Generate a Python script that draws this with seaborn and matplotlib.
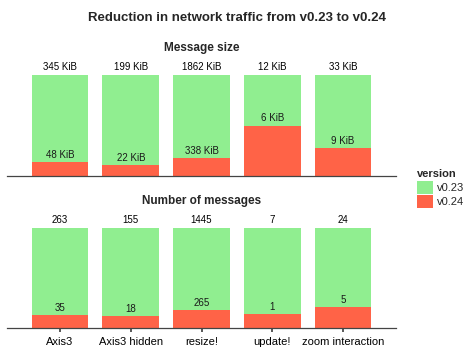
import numpy as np
import pandas as pd
import seaborn as sns
import matplotlib.pyplot as plt
from matplotlib.patches import Patch

# data
benchmarks = ['Axis3', 'Axis3 hidden', 'resize!', 'update!', 'zoom interaction']
size_v023 = [345, 199, 1862, 12, 33]      # KiB
size_v024 = [48, 22, 338, 6, 9]           # KiB
count_v023 = [263, 155, 1445, 7, 24]
count_v024 = [35, 18, 265, 1, 5]

versions = ['v0.23', 'v0.24']
colors = {'v0.23': '#90EE90', 'v0.24': '#FF6347'}

def make_df(old, new):
    rows = []
    for b, o, n in zip(benchmarks, old, new):
        rows.append({'benchmark': b, 'version': 'v0.23', 'value': o, 'ratio': 1.0})
        rows.append({'benchmark': b, 'version': 'v0.24', 'value': n, 'ratio': n / o})
    return pd.DataFrame(rows)

panels = [
    ('Message size', make_df(size_v023, size_v024), ' KiB'),
    ('Number of messages', make_df(count_v023, count_v024), ''),
]

sns.set_theme(style='white')
plt.rcParams['font.family'] = ['Liberation Sans', 'DejaVu Sans']

fig = plt.figure(figsize=(4.74, 3.57), dpi=100)
H = 357.0
W = 474.0
ax_boxes = [(7, 75, 176), (7, 228, 328)]

for i, ((title, df, unit), (x0, ytop, ybot)) in enumerate(zip(panels, ax_boxes)):
    ax = fig.add_axes([x0 / W, 1 - ybot / H, (396 - x0) / W, (ybot - ytop) / H])
    sns.barplot(data=df, x='benchmark', y='ratio', hue='version', hue_order=versions,
                palette=colors, dodge=False, width=0.8, saturation=1, ax=ax,
                legend=False, order=benchmarks, linewidth=0)
    ax.set_xlim(-0.75, 4.75)
    ax.set_ylim(0, 1)
    ax.set_ylabel('')
    ax.set_xlabel('')
    ax.set_yticks([])
    for s in ['top', 'right', 'left']:
        ax.spines[s].set_visible(False)
    ax.spines['bottom'].set_color('#444444')
    ax.spines['bottom'].set_linewidth(0.9)
    ax.set_title(title, fontsize=8.5, fontweight='bold', pad=17)

    for j, b in enumerate(benchmarks):
        sub = df[df.benchmark == b]
        old = sub[sub.version == 'v0.23'].iloc[0]
        new = sub[sub.version == 'v0.24'].iloc[0]
        ax.text(j, 1.0 + 0.03, f"{old.value}{unit}", ha='center', va='bottom',
                fontsize=7, color='black', clip_on=False)
        ax.text(j, new.ratio + 0.02, f"{new.value}{unit}", ha='center', va='bottom',
                fontsize=7, color='#1a1a1a')

    if i == 0:
        ax.set_xticks([])
    else:
        ax.tick_params(axis='x', bottom=True, length=3, color='#444444',
                       labelsize=8, pad=3.5, labelcolor='black')

fig.suptitle('Reduction in network traffic from v0.23 to v0.24',
             fontsize=9.5, fontweight='bold', x=0.5, y=1 - 18 / H, va='center')

handles = [Patch(facecolor=colors[v], edgecolor='none', label=v) for v in versions]
leg = fig.legend(handles=handles, title='version', loc='upper left',
                 bbox_to_anchor=(407 / W, 1 - 159 / H), frameon=False,
                 fontsize=8, title_fontproperties={'weight': 'bold', 'size': 8},
                 handlelength=1.4, handleheight=1.4, handletextpad=0.4,
                 labelspacing=0.15, alignment='left')

fig.savefig('out.png', dpi=100, facecolor='white')
